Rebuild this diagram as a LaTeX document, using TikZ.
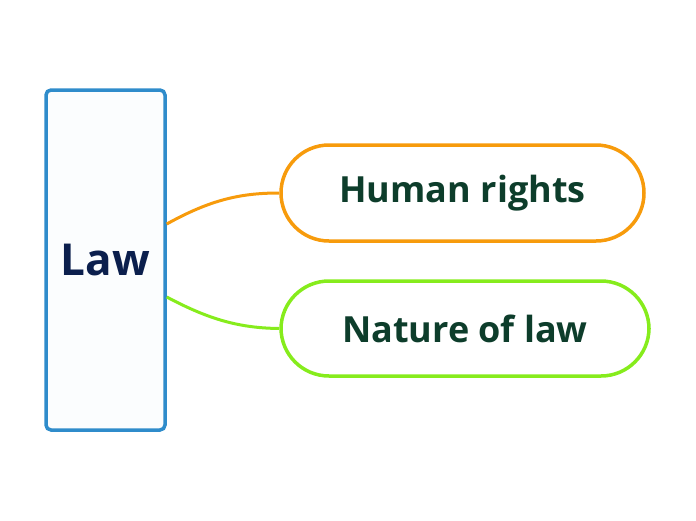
\documentclass[tikz,border=0pt]{standalone}
\usepackage{fontspec}
\setmainfont{Open Sans}
\definecolor{lawblue}{HTML}{2F8CCB}
\definecolor{hrorange}{HTML}{F79B0C}
\definecolor{nlgreen}{HTML}{86EC1C}
\definecolor{txtgreen}{HTML}{0D3D2B}
\definecolor{txtnavy}{HTML}{0B1F4D}
\begin{document}
\begin{tikzpicture}[x=1pt,y=-1pt,
  pill/.style={draw,line width=3.5pt,rounded corners=48pt,fill=white,font=\bfseries\fontsize{36}{42}\selectfont,text=txtgreen}]
\useasboundingbox (0,0) rectangle (696,520);
\node[draw=lawblue,line width=3.5pt,rounded corners=5pt,fill=white!98!lawblue,minimum width=119pt,minimum height=340pt,
  font=\bfseries\fontsize{44}{50}\selectfont,text=txtnavy] (law) at (105.5,260) {Law};
\node[pill,draw=hrorange,minimum width=363pt,minimum height=96pt] (hr) at (462.5,193) {Human rights};
\node[pill,draw=nlgreen,minimum width=368pt,minimum height=95pt] (nl) at (465,328.5) {Nature of law};
\draw[hrorange,line width=3pt] (law.east |- 0,224) .. controls (210,200) and (240,193) .. (hr.west);
\draw[nlgreen,line width=3pt] (law.east |- 0,297) .. controls (210,320) and (240,328) .. (nl.west);
\end{tikzpicture}
\end{document}
